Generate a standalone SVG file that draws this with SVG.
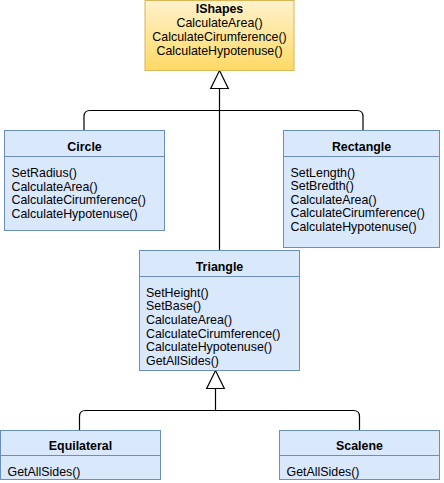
<svg xmlns="http://www.w3.org/2000/svg" width="444" height="483" viewBox="0 0 444 483">
<defs>
<linearGradient id="gold" x1="0" y1="0" x2="0" y2="1">
<stop offset="0" stop-color="#fff2cc"/>
<stop offset="1" stop-color="#ffd966"/>
</linearGradient>
</defs>
<style>
.box{fill:#dae8fc;stroke:#6c8ebf;stroke-width:1}
.iface{fill:url(#gold);stroke:#d6b656;stroke-width:1}
.div{stroke:#6c8ebf;stroke-width:1;fill:none}
.edge{fill:none;stroke:#000;stroke-width:1.2}
.head{fill:#fff;stroke:#000;stroke-width:1.2}
text{font-family:"Comic Sans MS","Liberation Sans",sans-serif;font-size:12.4px;fill:#000}
.t{font-weight:bold;text-anchor:middle}
.c{text-anchor:middle}
</style>
<g id="connectors">
<path class="edge" d="M219.5,88.5 V250.5"/>
<path class="edge" d="M84,130.5 V116.5 Q84,110.5 90,110.5 H219.5"/>
<path class="edge" d="M363,130.5 V116.5 Q363,110.5 357,110.5 H219.5"/>
<polygon class="head" points="219.5,70.5 228.3,88.5 210.7,88.5"/>
<path class="edge" d="M215.5,388.5 V410.5"/>
<path class="edge" d="M79.5,430.5 V416.5 Q79.5,410.5 85.5,410.5 H215.5"/>
<path class="edge" d="M359.5,430.5 V416.5 Q359.5,410.5 353.5,410.5 H215.5"/>
<polygon class="head" points="215.5,370.5 224.3,388.5 206.7,388.5"/>
</g>
<g id="IShapes">
<rect class="iface" x="145" y="0.5" width="149" height="70"/>
<text class="t" x="219.5" y="13">IShapes</text>
<text class="c" x="219.5" y="27">CalculateArea()</text>
<text class="c" x="219.5" y="41">CalculateCirumference()</text>
<text class="c" x="219.5" y="55">CalculateHypotenuse()</text>
</g>
<g id="Circle">
<rect class="box" x="4.5" y="130.5" width="160" height="100"/>
<line class="div" x1="4.5" y1="156.5" x2="164.5" y2="156.5"/>
<text class="t" x="84.5" y="150.5">Circle</text>
<text x="11.5" y="177">SetRadius()</text>
<text x="11.5" y="190.7">CalculateArea()</text>
<text x="11.5" y="204.4">CalculateCirumference()</text>
<text x="11.5" y="218.1">CalculateHypotenuse()</text>
</g>
<g id="Rectangle">
<rect class="box" x="283.5" y="130.5" width="156" height="117"/>
<line class="div" x1="283.5" y1="156.5" x2="439.5" y2="156.5"/>
<text class="t" x="361.5" y="151">Rectangle</text>
<text x="290.5" y="176.5">SetLength()</text>
<text x="290.5" y="190.1">SetBredth()</text>
<text x="290.5" y="203.7">CalculateArea()</text>
<text x="290.5" y="217.3">CalculateCirumference()</text>
<text x="290.5" y="230.9">CalculateHypotenuse()</text>
</g>
<g id="Triangle">
<rect class="box" x="139.5" y="250.5" width="160" height="120"/>
<line class="div" x1="139.5" y1="276.5" x2="299.5" y2="276.5"/>
<text class="t" x="219.5" y="270.5">Triangle</text>
<text x="146" y="296.5">SetHeight()</text>
<text x="146" y="310.2">SetBase()</text>
<text x="146" y="323.9">CalculateArea()</text>
<text x="146" y="337.6">CalculateCirumference()</text>
<text x="146" y="351.3">CalculateHypotenuse()</text>
<text x="146" y="365">GetAllSides()</text>
</g>
<g id="Equilateral">
<rect class="box" x="0.5" y="430.5" width="160" height="49"/>
<line class="div" x1="0.5" y1="455.5" x2="160.5" y2="455.5"/>
<text class="t" x="80.5" y="450">Equilateral</text>
<text x="7.5" y="475.5">GetAllSides()</text>
</g>
<g id="Scalene">
<rect class="box" x="279.5" y="430.5" width="160" height="49"/>
<line class="div" x1="279.5" y1="455.5" x2="439.5" y2="455.5"/>
<text class="t" x="359.5" y="450">Scalene</text>
<text x="286.5" y="475.5">GetAllSides()</text>
</g>
</svg>
